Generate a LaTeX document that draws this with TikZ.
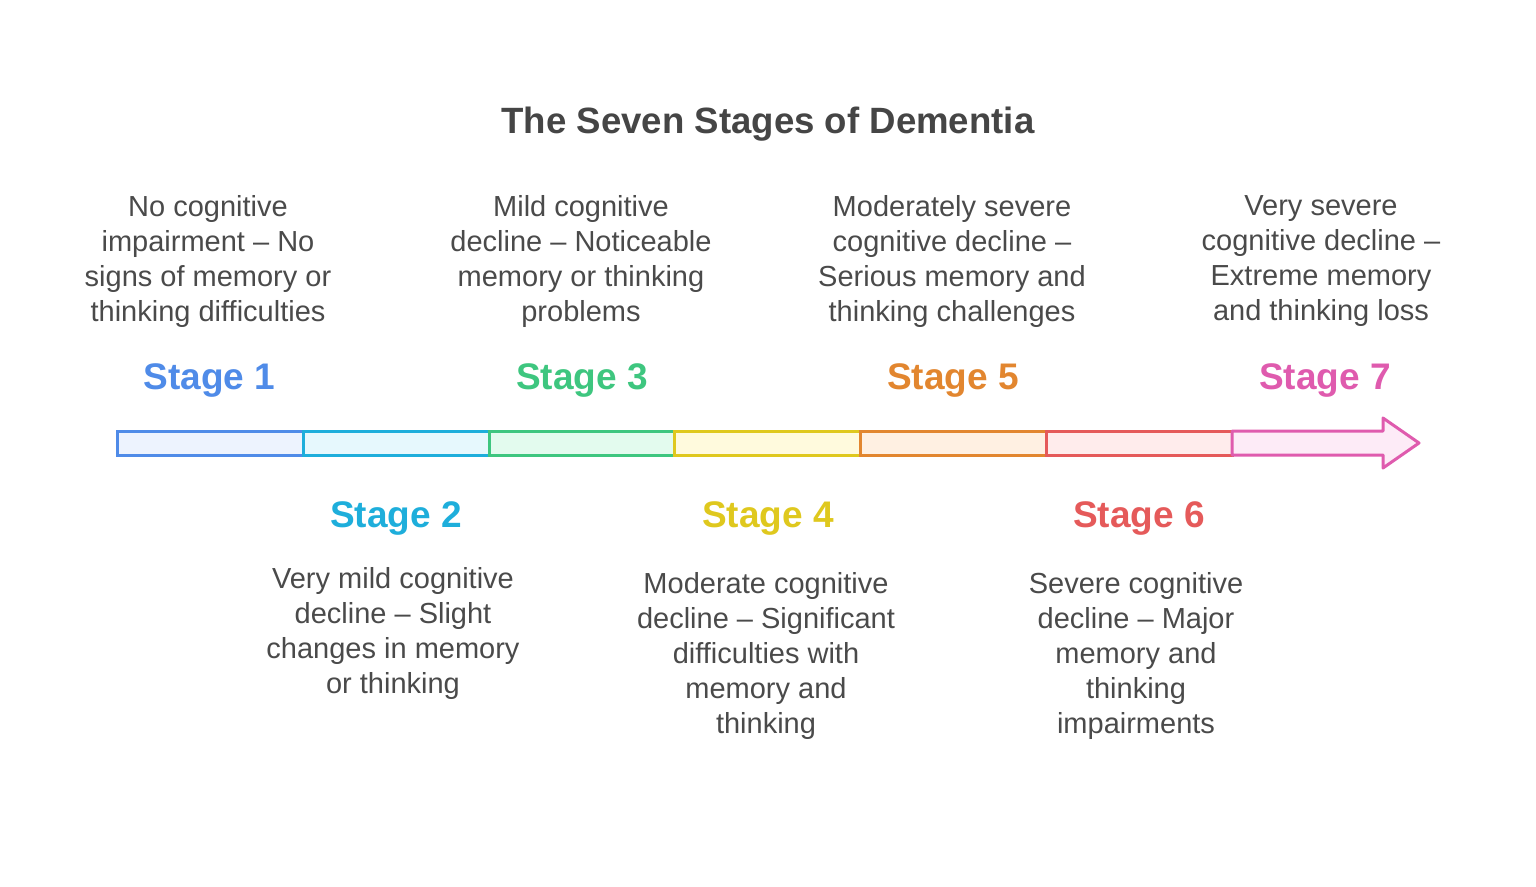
\documentclass[tikz,border=0pt]{standalone}
\usepackage{fontspec}
\setmainfont{Liberation Sans}
\definecolor{txtgray}{HTML}{4A4A4A}
\definecolor{titlegray}{HTML}{454545}
\definecolor{c1}{HTML}{4F8BE8}\definecolor{f1}{HTML}{EDF3FE}
\definecolor{c2}{HTML}{1EAEDB}\definecolor{f2}{HTML}{E6F8FD}
\definecolor{c3}{HTML}{3EC67F}\definecolor{f3}{HTML}{E3FBEE}
\definecolor{c4}{HTML}{DFC81E}\definecolor{f4}{HTML}{FFFADD}
\definecolor{c5}{HTML}{E2862F}\definecolor{f5}{HTML}{FFF0E2}
\definecolor{c6}{HTML}{E55A5A}\definecolor{f6}{HTML}{FFECEC}
\definecolor{c7}{HTML}{DF5BAE}\definecolor{f7}{HTML}{FDEBF7}
\tikzset{seg/.style={rectangle,draw,line width=3pt,minimum width=186pt,minimum height=24pt,inner sep=0pt,outer sep=0pt},
         stage label/.style={font=\fontsize{37}{44}\selectfont\bfseries,anchor=base,inner sep=0pt},
         desc/.style={font=\fontsize{29}{35}\selectfont,text=txtgray,align=center,anchor=north,inner sep=0pt,
                      execute at begin node=\strut},
         title/.style={font=\fontsize{36.6}{44}\selectfont\bfseries,text=titlegray,anchor=base,inner sep=0pt}
}
\begin{document}
\begin{tikzpicture}[x=1pt,y=-1pt]
\useasboundingbox (0,0) rectangle (1536,886);
\node [title] (head) at (768,133) {The Seven Stages of Dementia};
% bar segments
\node [seg,draw=c1,fill=f1] (s1) at (210,443) {};
\node [seg,draw=c2,fill=f2] (s2) at (396,443) {};
\node [seg,draw=c3,fill=f3] (s3) at (582,443) {};
\node [seg,draw=c4,fill=f4] (s4) at (767.5,443) {};
\node [seg,draw=c5,fill=f5] (s5) at (953,443) {};
\node [seg,draw=c6,fill=f6] (s6) at (1139,443) {};
\coordinate (tip) at (1419,443);
\draw [c7,fill=f7,line width=3pt,line join=round] (s6.north east) -- (1383,431) -- (1383,418) -- (tip)
    -- (1383,468) -- (1383,455) -- (s6.south east) -- cycle;
% stage labels
\node [stage label,text=c1] (l1) at (209.5,389) {Stage 1};
\node [stage label,text=c2] (l2) at (396,527) {Stage 2};
\node [stage label,text=c3] (l3) at (582,389) {Stage 3};
\node [stage label,text=c4] (l4) at (768,527) {Stage 4};
\node [stage label,text=c5] (l5) at (953,389) {Stage 5};
\node [stage label,text=c6] (l6) at (1139,527) {Stage 6};
\node [stage label,text=c7] (l7) at (1325,389) {Stage 7};
% descriptions
\node [desc] (d1) at (208,195.5) {No cognitive\\impairment -- No\\signs of memory or\\thinking difficulties};
\node [desc] (d3) at (581,195.5) {Mild cognitive\\decline -- Noticeable\\memory or thinking\\problems};
\node [desc] (d5) at (952,195.5) {Moderately severe\\cognitive decline --\\Serious memory and\\thinking challenges};
\node [desc] (d7) at (1321,195.5) {Very severe\\cognitive decline --\\Extreme memory\\and thinking loss};
\node [desc] (d2) at (393,567.5) {Very mild cognitive\\decline -- Slight\\changes in memory\\or thinking};
\node [desc] (d4) at (766,572.5) {Moderate cognitive\\decline -- Significant\\difficulties with\\memory and\\thinking};
\node [desc] (d6) at (1136,572.5) {Severe cognitive\\decline -- Major\\memory and\\thinking\\impairments};
\end{tikzpicture}
\end{document}
